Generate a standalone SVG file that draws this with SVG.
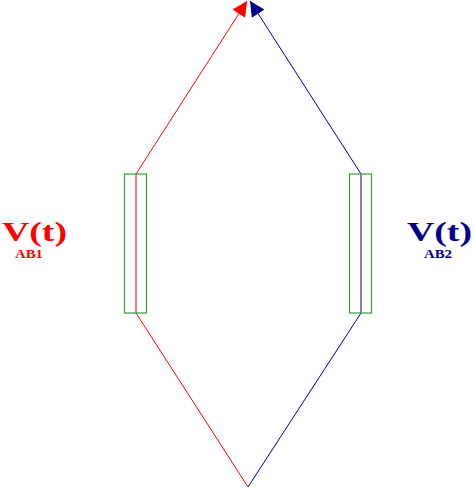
<svg xmlns="http://www.w3.org/2000/svg" width="474" height="488" viewBox="0 0 474 488">
<style>
.box{fill:none;stroke:#3a9a3a;stroke-width:1.2}
.lbl{font-family:"Liberation Serif",serif;font-weight:bold}
.big{font-size:28px}
.sub{font-size:13px}
</style>
<defs>
<marker id="ar" viewBox="0 0 10 10" refX="10" refY="5" markerWidth="21" markerHeight="15" markerUnits="userSpaceOnUse" orient="auto">
<path d="M0,0L10,5L0,10z" fill="red"/>
</marker>
<marker id="ab" viewBox="0 0 10 10" refX="10" refY="5" markerWidth="21" markerHeight="15" markerUnits="userSpaceOnUse" orient="auto">
<path d="M0,0L10,5L0,10z" fill="#00008b"/>
</marker>
</defs>
<rect width="474" height="488" fill="#fff"/>
<g id="connectors">
<path d="M248,487L136,313L136,174L247,1" fill="none" stroke="red" stroke-width="1" marker-end="url(#ar)"/>
<path d="M248,487L361,313L361,174L250,1" fill="none" stroke="#00008b" stroke-width="1" marker-end="url(#ab)"/>
</g>
<g id="box1"><rect class="box" x="124.5" y="174" width="22" height="139"/></g>
<g id="box2"><rect class="box" x="349.5" y="174" width="22" height="139"/></g>
<g id="label1" fill="red">
<text class="lbl big" x="2" y="240.5" textLength="65" lengthAdjust="spacingAndGlyphs">V(t)</text>
<text class="lbl sub" x="15" y="257.5" textLength="28" lengthAdjust="spacingAndGlyphs">AB1</text>
</g>
<g id="label2" fill="#00008b">
<text class="lbl big" x="407" y="240.5" textLength="65" lengthAdjust="spacingAndGlyphs">V(t)</text>
<text class="lbl sub" x="424" y="257.5" textLength="28" lengthAdjust="spacingAndGlyphs">AB2</text>
</g>
</svg>
